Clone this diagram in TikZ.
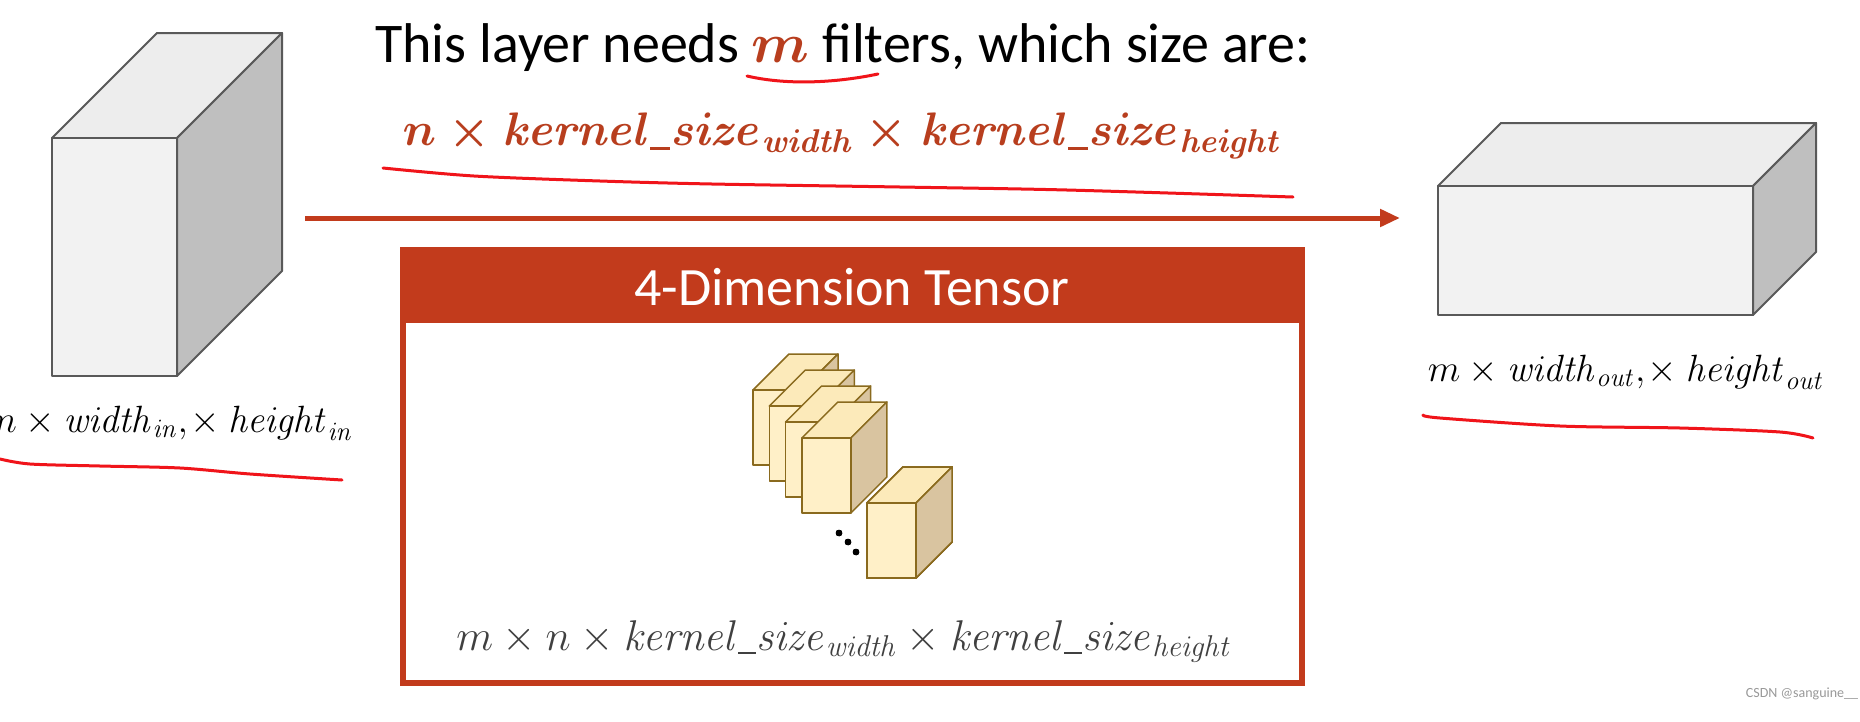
\RequirePackage{fix-cm}
\documentclass[tikz,border=0pt]{standalone}
\usepackage{amsmath}
\usepackage{amssymb}
\usepackage[no-math]{fontspec}
\setmainfont{Carlito}
\usepackage{xcolor}
\usepackage{tikz}
\usetikzlibrary{arrows.meta}

\definecolor{tensorred}{HTML}{C23B1C}
\definecolor{formred}{HTML}{B83E1E}
\definecolor{penred}{HTML}{F0141A}
\definecolor{cubeline}{HTML}{595959}
\definecolor{filterline}{HTML}{8A6A1E}
\definecolor{formgray}{HTML}{404040}

\tikzset{
  graytop/.style={draw=cubeline, line width=2pt, line join=round, fill=black!7},
  grayside/.style={draw=cubeline, line width=2pt, line join=round, fill=black!25},
  grayfront/.style={draw=cubeline, line width=2pt, line join=round, fill=black!5},
  filtertop/.style={draw=filterline, line width=1.5pt, line join=round, fill={rgb,255:red,252;green,234;blue,186}},
  filterside/.style={draw=filterline, line width=1.5pt, line join=round, fill={rgb,255:red,217;green,196;blue,160}},
  filterfront/.style={draw=filterline, line width=1.5pt, line join=round, fill={rgb,255:red,255;green,240;blue,200}},
  pen/.style={draw=penred, line width=3pt, line cap=round, line join=round},
  mathlabel/.style={inner sep=0pt, text=black, font=\fontsize{38}{41}\selectfont},
}

% cuboid: x, y of front top-left, width, height, depth, style prefix
\newcommand{\cuboid}[6]{%
  \draw[#6top] (#1,#2) -- ++(#5,-#5) -- ++(#3,0) -- ++(-#5,#5) -- cycle;
  \draw[#6side] (#1+#3,#2) -- ++(#5,-#5) -- ++(0,#4) -- ++(-#5,#5) -- cycle;
  \draw[#6front] (#1,#2) rectangle ++(#3,#4);
}
\newcommand{\uscore}{\mbox{\rule[-0.1em]{0.42em}{0.05em}}}
\newcommand{\ks}{\mathit{kernel}\uscore\mathit{size}}

\begin{document}
\begin{tikzpicture}[x=1pt, y=-1pt]
  \useasboundingbox[fill=white] (0,0) rectangle (1860,721);

  % input and output feature maps
  \cuboid{52}{138}{125}{238}{105}{gray}
  \cuboid{1438}{186}{315}{129}{63}{gray}
  \node[mathlabel, anchor=base east] (inlabel) at (353,432)
    {$m\times \mathit{width}_{\mathit{in}}{,}\!\times \mathit{height}_{\mathit{in}}$};
  \node[mathlabel, anchor=base] (outlabel) at (1626,381)
    {$m\times \mathit{width}_{\mathit{out}}{,}\!\times \mathit{height}_{\mathit{out}}$};

  % title
  \node[inner sep=0pt, anchor=base, font=\fontsize{56}{60}\selectfont] (title) at (843,62)
    {This layer needs \textcolor{formred}{$\boldsymbol{m}$} filters, which size are:};
  \node[inner sep=0pt, anchor=base, text=formred, font=\fontsize{47}{50}\selectfont\boldmath] (filtersize) at (842,145)
    {$n\times \ks_{\mathit{width}}\times \ks_{\mathit{height}}$};

  % arrow
  \coordinate (arrstart) at (305,218);
  \coordinate (arrend) at (1400,218);
  \draw[tensorred, line width=5pt, -{Triangle[length=20pt, width=17pt]}] (arrstart) -- (arrend);

  % tensor box
  \fill[white] (400,247) rectangle (1305,686);
  \draw[tensorred, line width=6pt] (403,250) rectangle (1302,683);
  \fill[tensorred] (400,247) rectangle (1305,323);
  \node[inner sep=0pt, text=white, font=\fontsize{54}{58}\selectfont] (tensorhead) at (852,287) {4-Dimension Tensor};

  % filters
  \foreach \i in {0,1,2,3}
    \cuboid{753+16.3*\i}{390+16*\i}{49}{75}{36}{filter}
  \cuboid{867}{503}{49}{75}{36}{filter}
  \foreach \p in {(839,533),(848,542),(856,552)}
    \fill \p circle (3.2);

  \node[inner sep=0pt, anchor=base, text=formgray, font=\fontsize{43}{47}\selectfont] (tensorsize) at (844,650)
    {$m\times n\times \ks_{\mathit{width}}\times \ks_{\mathit{height}}$};

  % pen strokes
  \draw[pen] (747,76) .. controls (790,86) and (840,82) .. (878,74);
  \draw[pen] plot[smooth] coordinates {(383,168) (474,176) (600,181) (712,184) (900,187) (1067,190) (1293,197)};
  \draw[pen] plot[smooth] coordinates {(0,459) (30,464) (100,466) (180,468) (250,474) (342,480)};
  \draw[pen] plot[smooth] coordinates {(1423,415) (1440,418) (1560,426) (1680,428) (1780,432) (1813,438)};

  \node[inner sep=0pt, text=black!40, font=\fontsize{14}{16}\selectfont] (mark) at (1802,694) {CSDN @sanguine\_\_};
\end{tikzpicture}
\end{document}
